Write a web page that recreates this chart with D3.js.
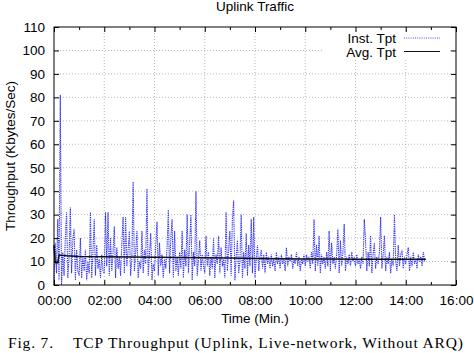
<!DOCTYPE html>
<html>
<head>
<meta charset="utf-8">
<script src="https://cdn.jsdelivr.net/npm/d3@7"></script>
<style>
  html, body { margin: 0; padding: 0; background: #fff; }
  svg { display: block; }
</style>
</head>
<body>
<svg id="chart" width="474" height="353"></svg>
<script>
// ---- data ----
const title = "Uplink Traffic";
const xLabel = "Time (Min.)";
const yLabel = "Throughput (Kbytes/Sec)";
const caption1 = "Fig. 7.";
const caption2 = "TCP Throughput (Uplink, Live-network, Without ARQ)";
const seriesNames = ["Inst. Tpt", "Avg. Tpt"];
const xTickLabels = ["00:00","02:00","04:00","06:00","08:00","10:00","12:00","14:00","16:00"];
const xTickMinutes = [0,2,4,6,8,10,12,14,16];
const yTicks = [0,10,20,30,40,50,60,70,80,90,100,110];
const sampleSeconds = 3;
// instantaneous throughput (Kbytes/s), one reading every 3 s
const instTpt = [
  0,18,5,28,2,81,0,14,4,20, 31,3,12,33,5,19,24,2,15,6,
  4,20,3,12,6,15,2,10,5,31, 3,14,28,4,17,7,11,3,13,6,
  5,31,8,31,4,20,6,14,25,3, 16,7,12,4,18,29,5,29,8,15,
  23,4,12,44,6,14,23,3,10,7, 23,5,15,9,41,4,13,22,2,9,
  6,17,27,4,18,8,13,3,11,7, 16,32,5,20,28,3,23,6,12,4,
  14,7,23,3,15,8,30,5,18,30, 2,14,8,40,4,11,19,6,13,8,
  5,21,8,14,4,12,7,20,3,13, 9,21,5,16,8,11,3,31,6,15,
  23,4,28,36,2,12,19,5,10,30, 3,14,7,22,4,17,8,28,5,29,
  3,11,17,6,12,15,7,13,5,14, 9,12,7,13,8,11,6,14,9,12,
  7,13,9,11,6,16,8,12,10,13, 7,11,9,14,8,12,6,11,9,13,
  8,13,10,12,7,14,9,28,6,17, 8,21,5,13,9,12,7,14,8,23,
  6,18,9,12,7,13,24,5,19,8, 14,26,6,12,9,13,8,14,10,12,
  8,13,9,11,7,12,9,28,19,6, 14,8,21,5,13,18,7,12,9,14,
  29,7,13,21,6,12,9,14,5,11, 8,30,10,6,17,8,13,15,7,12,
  9,13,16,6,12,8,14,9,11,7, 13,10,12,8,14,10
];
// average throughput (Kbytes/s) read at these minutes
const avgMinutes = [0, 0.05, 0.15, 0.2, 0.5, 1, 2, 3, 4, 5, 6, 7, 8, 9, 10, 11, 12, 13, 14, 14.8];
const avgTpt     = [17, 9.5, 9.5, 12.8, 12.5, 12.2, 12.0, 11.9, 11.8, 11.7, 11.6, 11.5, 11.3, 11.2, 11.1, 11.1, 11.0, 11.0, 11.0, 11.0];

// ---- layout ----
const SANS = "'Liberation Sans', Arial, Helvetica, sans-serif";
const SERIF = "'Liberation Serif', 'Times New Roman', serif";
const svg = d3.select("#chart");
const W = 474, H = 353;
const L = 54, R = 456, T = 27, B = 285;
svg.append("rect").attr("width", W).attr("height", H).attr("fill", "#fff");

const x = d3.scaleLinear().domain([0, 16]).range([L, R]);
const y = d3.scaleLinear().domain([0, 110]).range([B, T]);

const instData = instTpt.map((v, i) => ({ t: i * sampleSeconds / 60, v }));
const avgData = avgMinutes.map((t, i) => ({ t, v: avgTpt[i] }));

// grid
const grid = svg.append("g").attr("stroke", "#a8a8a8").attr("stroke-width", 0.8).attr("stroke-dasharray", "1,2");
xTickMinutes.filter(m => m > 0 && m < 16).forEach(m => {
  grid.append("line").attr("x1", x(m)).attr("x2", x(m)).attr("y1", T).attr("y2", B);
});
yTicks.filter(v => v > 0 && v < 110).forEach(v => {
  grid.append("line").attr("x1", L).attr("x2", R).attr("y1", y(v)).attr("y2", y(v));
});

// data lines
const INST_COLOR = "#3535f5";
const line = d3.line().x(d => x(d.t)).y(d => y(d.v));
svg.append("path").datum(instData).attr("d", line)
  .attr("fill", "none").attr("stroke", INST_COLOR).attr("stroke-width", 1.1)
  .attr("stroke-dasharray", "1.3,0.9");
svg.append("path").datum(avgData).attr("d", line)
  .attr("fill", "none").attr("stroke", "#111").attr("stroke-width", 1.5);

// legend (opaque)
svg.append("rect").attr("x", 323).attr("y", 33).attr("width", 125).attr("height", 25).attr("fill", "#fff");
const lg = svg.append("g").style("font-family", SANS).style("font-size", "13.5px").attr("text-anchor", "end");
lg.append("text").attr("x", 396).attr("y", 43).text(seriesNames[0]);
lg.append("text").attr("x", 396).attr("y", 56.5).text(seriesNames[1]);
svg.append("line").attr("x1", 404).attr("x2", 440).attr("y1", 38).attr("y2", 38)
  .attr("stroke", INST_COLOR).attr("stroke-width", 0.9).attr("stroke-dasharray", "1,1.2");
svg.append("line").attr("x1", 404).attr("x2", 440).attr("y1", 51.5).attr("y2", 51.5)
  .attr("stroke", "#111").attr("stroke-width", 1.2);

// frame
svg.append("rect").attr("x", L).attr("y", T).attr("width", R - L).attr("height", B - T)
  .attr("fill", "none").attr("stroke", "#000").attr("stroke-width", 1);

// axes with inward ticks
const fmt = (d) => xTickLabels[xTickMinutes.indexOf(d)] || "";
const xAxisB = d3.axisBottom(x).tickValues(xTickMinutes).tickFormat(fmt).tickSizeInner(-5).tickSizeOuter(0).tickPadding(10);
const xAxisT = d3.axisTop(x).tickValues(xTickMinutes).tickFormat("").tickSizeInner(-5).tickSizeOuter(0);
const minorM = d3.range(1, 16, 2);
const xMinorB = d3.axisBottom(x).tickValues(minorM).tickFormat("").tickSizeInner(-3).tickSizeOuter(0);
const xMinorT = d3.axisTop(x).tickValues(minorM).tickFormat("").tickSizeInner(-3).tickSizeOuter(0);
const yAxisL = d3.axisLeft(y).tickValues(yTicks).tickSizeInner(-5).tickSizeOuter(0).tickPadding(9);
const yAxisR = d3.axisRight(y).tickValues(yTicks).tickFormat("").tickSizeInner(-5).tickSizeOuter(0);

function styleAxis(g) {
  g.select(".domain").remove();
  g.selectAll("text").style("font-family", SANS).style("font-size", "13.5px").attr("fill", "#000");
  g.selectAll("line").attr("stroke", "#000");
}
svg.append("g").attr("transform", `translate(0,${B})`).call(xAxisB).call(styleAxis);
svg.append("g").attr("transform", `translate(0,${T})`).call(xAxisT).call(styleAxis);
svg.append("g").attr("transform", `translate(0,${B})`).call(xMinorB).call(styleAxis);
svg.append("g").attr("transform", `translate(0,${T})`).call(xMinorT).call(styleAxis);
svg.append("g").attr("transform", `translate(${L},0)`).call(yAxisL).call(styleAxis);
svg.append("g").attr("transform", `translate(${R},0)`).call(yAxisR).call(styleAxis);

// titles
svg.append("text").attr("x", (L + R) / 2).attr("y", 11).attr("text-anchor", "middle")
  .style("font-family", SANS).style("font-size", "13.5px").text(title);
svg.append("text").attr("x", (L + R) / 2).attr("y", 323).attr("text-anchor", "middle")
  .style("font-family", SANS).style("font-size", "13.5px").text(xLabel);
svg.append("text").attr("transform", `translate(15,${(T + B) / 2}) rotate(-90)`)
  .attr("text-anchor", "middle").style("font-family", SANS).style("font-size", "13.5px").text(yLabel);

// caption
svg.append("text").attr("x", 8).attr("y", 348).style("font-family", SERIF).style("font-size", "15.5px")
  .attr("textLength", 45).attr("lengthAdjust", "spacing").text(caption1);
svg.append("text").attr("x", 73).attr("y", 348).style("font-family", SERIF).style("font-size", "15.5px")
  .attr("textLength", 390).attr("lengthAdjust", "spacing").text(caption2);
</script>
</body>
</html>
